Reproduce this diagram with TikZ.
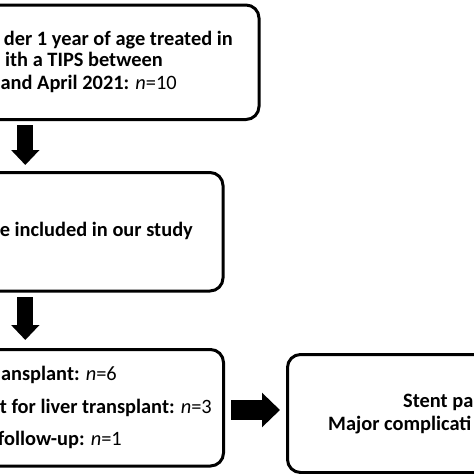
\documentclass[tikz,border=0pt]{standalone}
\usepackage{fontspec}
\setmainfont{Carlito}
\usetikzlibrary{arrows.meta}
\begin{document}
\begin{tikzpicture}[x=1pt,y=-1pt,
  box/.style={draw, line width=3pt, rounded corners=13pt, anchor=north west, inner sep=0pt},
  txt/.style={inner sep=0pt, font=\fontsize{20.4}{24}\selectfont\bfseries},
  blockv/.style={line width=16pt, -{Triangle[length=15pt,width=27.5pt]}},
  blockh/.style={line width=20pt, -{Triangle[length=18pt,width=33.5pt]}}]
\useasboundingbox (0,0) rectangle (474,474);
\clip (0,0) rectangle (474,474);
% boxes
\node[box, minimum width=277.5pt, minimum height=114.5pt] (b1) at (-20,3.5) {};
\node[box, minimum width=241.5pt, minimum height=118.5pt] (b2) at (-20,171) {};
\node[box, minimum width=242pt, minimum height=116.5pt] (b3) at (-20,348) {};
\node[box, minimum width=214pt, minimum height=118pt] (b4) at (286,353) {};
% texts
\node[txt, anchor=base east] (t1a) at (233,45) {der 1 year of age treated in};
\node[txt, anchor=base east] (t1b) at (163,66.5) {ith a TIPS between};
\node[txt, anchor=base east] (t1c) at (177,89.5) {and April 2021: \mdseries\textit{n}=10};
\node[txt, anchor=base east] (t2) at (193,236.5) {e included in our study};
\node[txt, anchor=base east] (t3a) at (117,380) {ansplant: \mdseries\textit{n}=6};
\node[txt, anchor=base east] (t3b) at (212,413) {t for liver transplant: \mdseries\textit{n}=3};
\node[txt, anchor=base east] (t3c) at (122,445) {follow-up: \mdseries\textit{n}=1};
\node[txt, anchor=base west] (t4a) at (403,407) {Stent pa};
\node[txt, anchor=base west] (t4b) at (328,430) {Major complicati};
% arrows
\coordinate (a1s) at (25.3,125);
\coordinate (a1e) at (25.3,165);
\coordinate (a2s) at (25.3,297);
\coordinate (a2e) at (25.3,340);
\coordinate (a3s) at (231,410);
\coordinate (a3e) at (280,410);
\draw[blockv] (a1s) -- (a1e);
\draw[blockv] (a2s) -- (a2e);
\draw[blockh] (a3s) -- (a3e);
\end{tikzpicture}
\end{document}
